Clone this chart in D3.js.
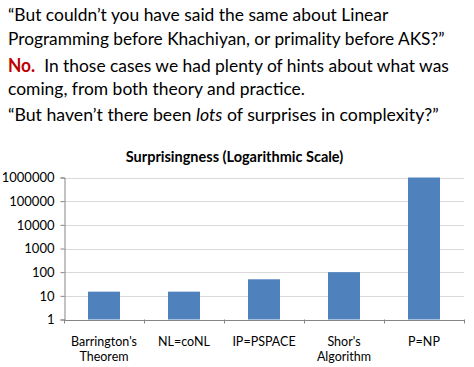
<!DOCTYPE html>
<html>
<head>
<meta charset="utf-8">
<script src="https://cdn.jsdelivr.net/npm/d3@7"></script>
<style>
  body { margin: 0; background: #fff; }
  svg { display: block; font-family: Lato, "Open Sans", sans-serif; }
</style>
</head>
<body>
<div class="canvas_area"></div>
<script>
// DATA
const categories = ["Barrington's|Theorem", "NL=coNL", "IP=PSPACE", "Shor's|Algorithm", "P=NP"];
const values = [15, 15, 50, 100, 1000000];
const tickValues = [1, 10, 100, 1000, 10000, 100000, 1000000];
const chartTitle = "Surprisingness (Logarithmic Scale)";
const slideLines = [
    [{t: "\u201CBut couldn\u2019t you have said the same about Linear"}],
    [{t: "Programming before Khachiyan, or primality before AKS?\u201D"}],
    [{t: "No.", red: true}, {t: "\u00A0 In those cases we had plenty of hints about what was"}],
    [{t: "coming, from both theory and practice."}],
    [{t: "\u201CBut haven\u2019t there been "}, {t: "lots", it: true}, {t: " of surprises in complexity?\u201D"}]
];

const svgwidth = 474, svgheight = 367;
const svg = d3.select(".canvas_area").append("svg")
    .attr("width", svgwidth).attr("height", svgheight);

// SLIDE TEXT  (right edges, text squeezed to fit)
const baselines = [21, 45, 72, 95, 121];
const lineEnds = [389, 445, 449, 305, 439];
const textLeft = 8;
slideLines.forEach((line, i) => {
    const g = svg.append("g");
    const txt = g.append("text")
        .attr("x", 0).attr("y", 0)
        .style("font-size", "18px").style("fill", "#000");
    line.forEach(p => {
        txt.append("tspan").text(p.t)
            .style("fill", p.red ? "#C00000" : "#000")
            .style("font-weight", p.red ? "bold" : "normal")
            .style("font-style", p.it ? "italic" : "normal");
    });
    const w = txt.node().getBBox().width;
    const sx = (lineEnds[i] - textLeft) / w;
    g.attr("transform", `translate(${textLeft},${baselines[i]}) scale(${sx},1)`);
});

// CHART
const margin = {left: 64, right: 10, top: 177.5, bottom: 47.5};
const plotRight = svgwidth - margin.right;
const plotBottom = svgheight - margin.bottom;

const X = d3.scaleBand().domain(categories)
    .range([margin.left, plotRight])
    .paddingInner(0.6).paddingOuter(0.3);
const Y = d3.scaleLog().domain([1, 1000000]).range([plotBottom, margin.top]);

// title
svg.append("text")
    .attr("x", 234.5).attr("y", 162)
    .attr("text-anchor", "middle")
    .style("font-size", "14.5px").style("font-weight", "bold")
    .text(chartTitle);

// gridlines
svg.append("g").selectAll("line")
    .data(tickValues.slice(1)).enter().append("line")
    .attr("x1", margin.left).attr("x2", plotRight)
    .attr("y1", d => Math.round(Y(d)) + 0.5).attr("y2", d => Math.round(Y(d)) + 0.5)
    .style("stroke", "#d9d9d9").style("stroke-width", 1);

// y axis
const yAxis = svg.append("g")
    .attr("transform", `translate(${margin.left + 0.5},0)`)
    .call(d3.axisLeft(Y).tickValues(tickValues).tickFormat(d3.format("d")).tickSize(4).tickPadding(6));
yAxis.selectAll("line, path").style("stroke", "#868686");
yAxis.selectAll("text").style("font-size", "13px").style("fill", "#000")
    .style("font-family", "Lato, 'Open Sans', sans-serif");

// bars
svg.append("g").selectAll("rect")
    .data(categories).enter().append("rect")
    .attr("x", d => X(d))
    .attr("width", X.bandwidth())
    .attr("y", (d, i) => Y(values[i]))
    .attr("height", (d, i) => plotBottom - Y(values[i]))
    .style("fill", "#4f81bd");

// x axis line + ticks between categories
const xg = svg.append("g");
xg.append("line")
    .attr("x1", margin.left).attr("x2", plotRight)
    .attr("y1", Math.round(plotBottom) + 0.5).attr("y2", Math.round(plotBottom) + 0.5)
    .style("stroke", "#868686");
const step = X.step();
xg.selectAll(".xtick")
    .data(d3.range(categories.length + 1)).enter().append("line")
    .attr("x1", i => Math.round(margin.left + i * step) + 0.5)
    .attr("x2", i => Math.round(margin.left + i * step) + 0.5)
    .attr("y1", plotBottom).attr("y2", plotBottom + 4)
    .style("stroke", "#868686");

// category labels
categories.forEach(c => {
    const parts = c.split("|");
    const t = svg.append("text")
        .attr("text-anchor", "middle")
        .style("font-size", "12.5px").style("fill", "#000");
    parts.forEach((p, j) => {
        t.append("tspan")
            .attr("x", X(c) + X.bandwidth() / 2)
            .attr("y", 346 + j * 15)
            .text(p);
    });
});
</script>
</body>
</html>
